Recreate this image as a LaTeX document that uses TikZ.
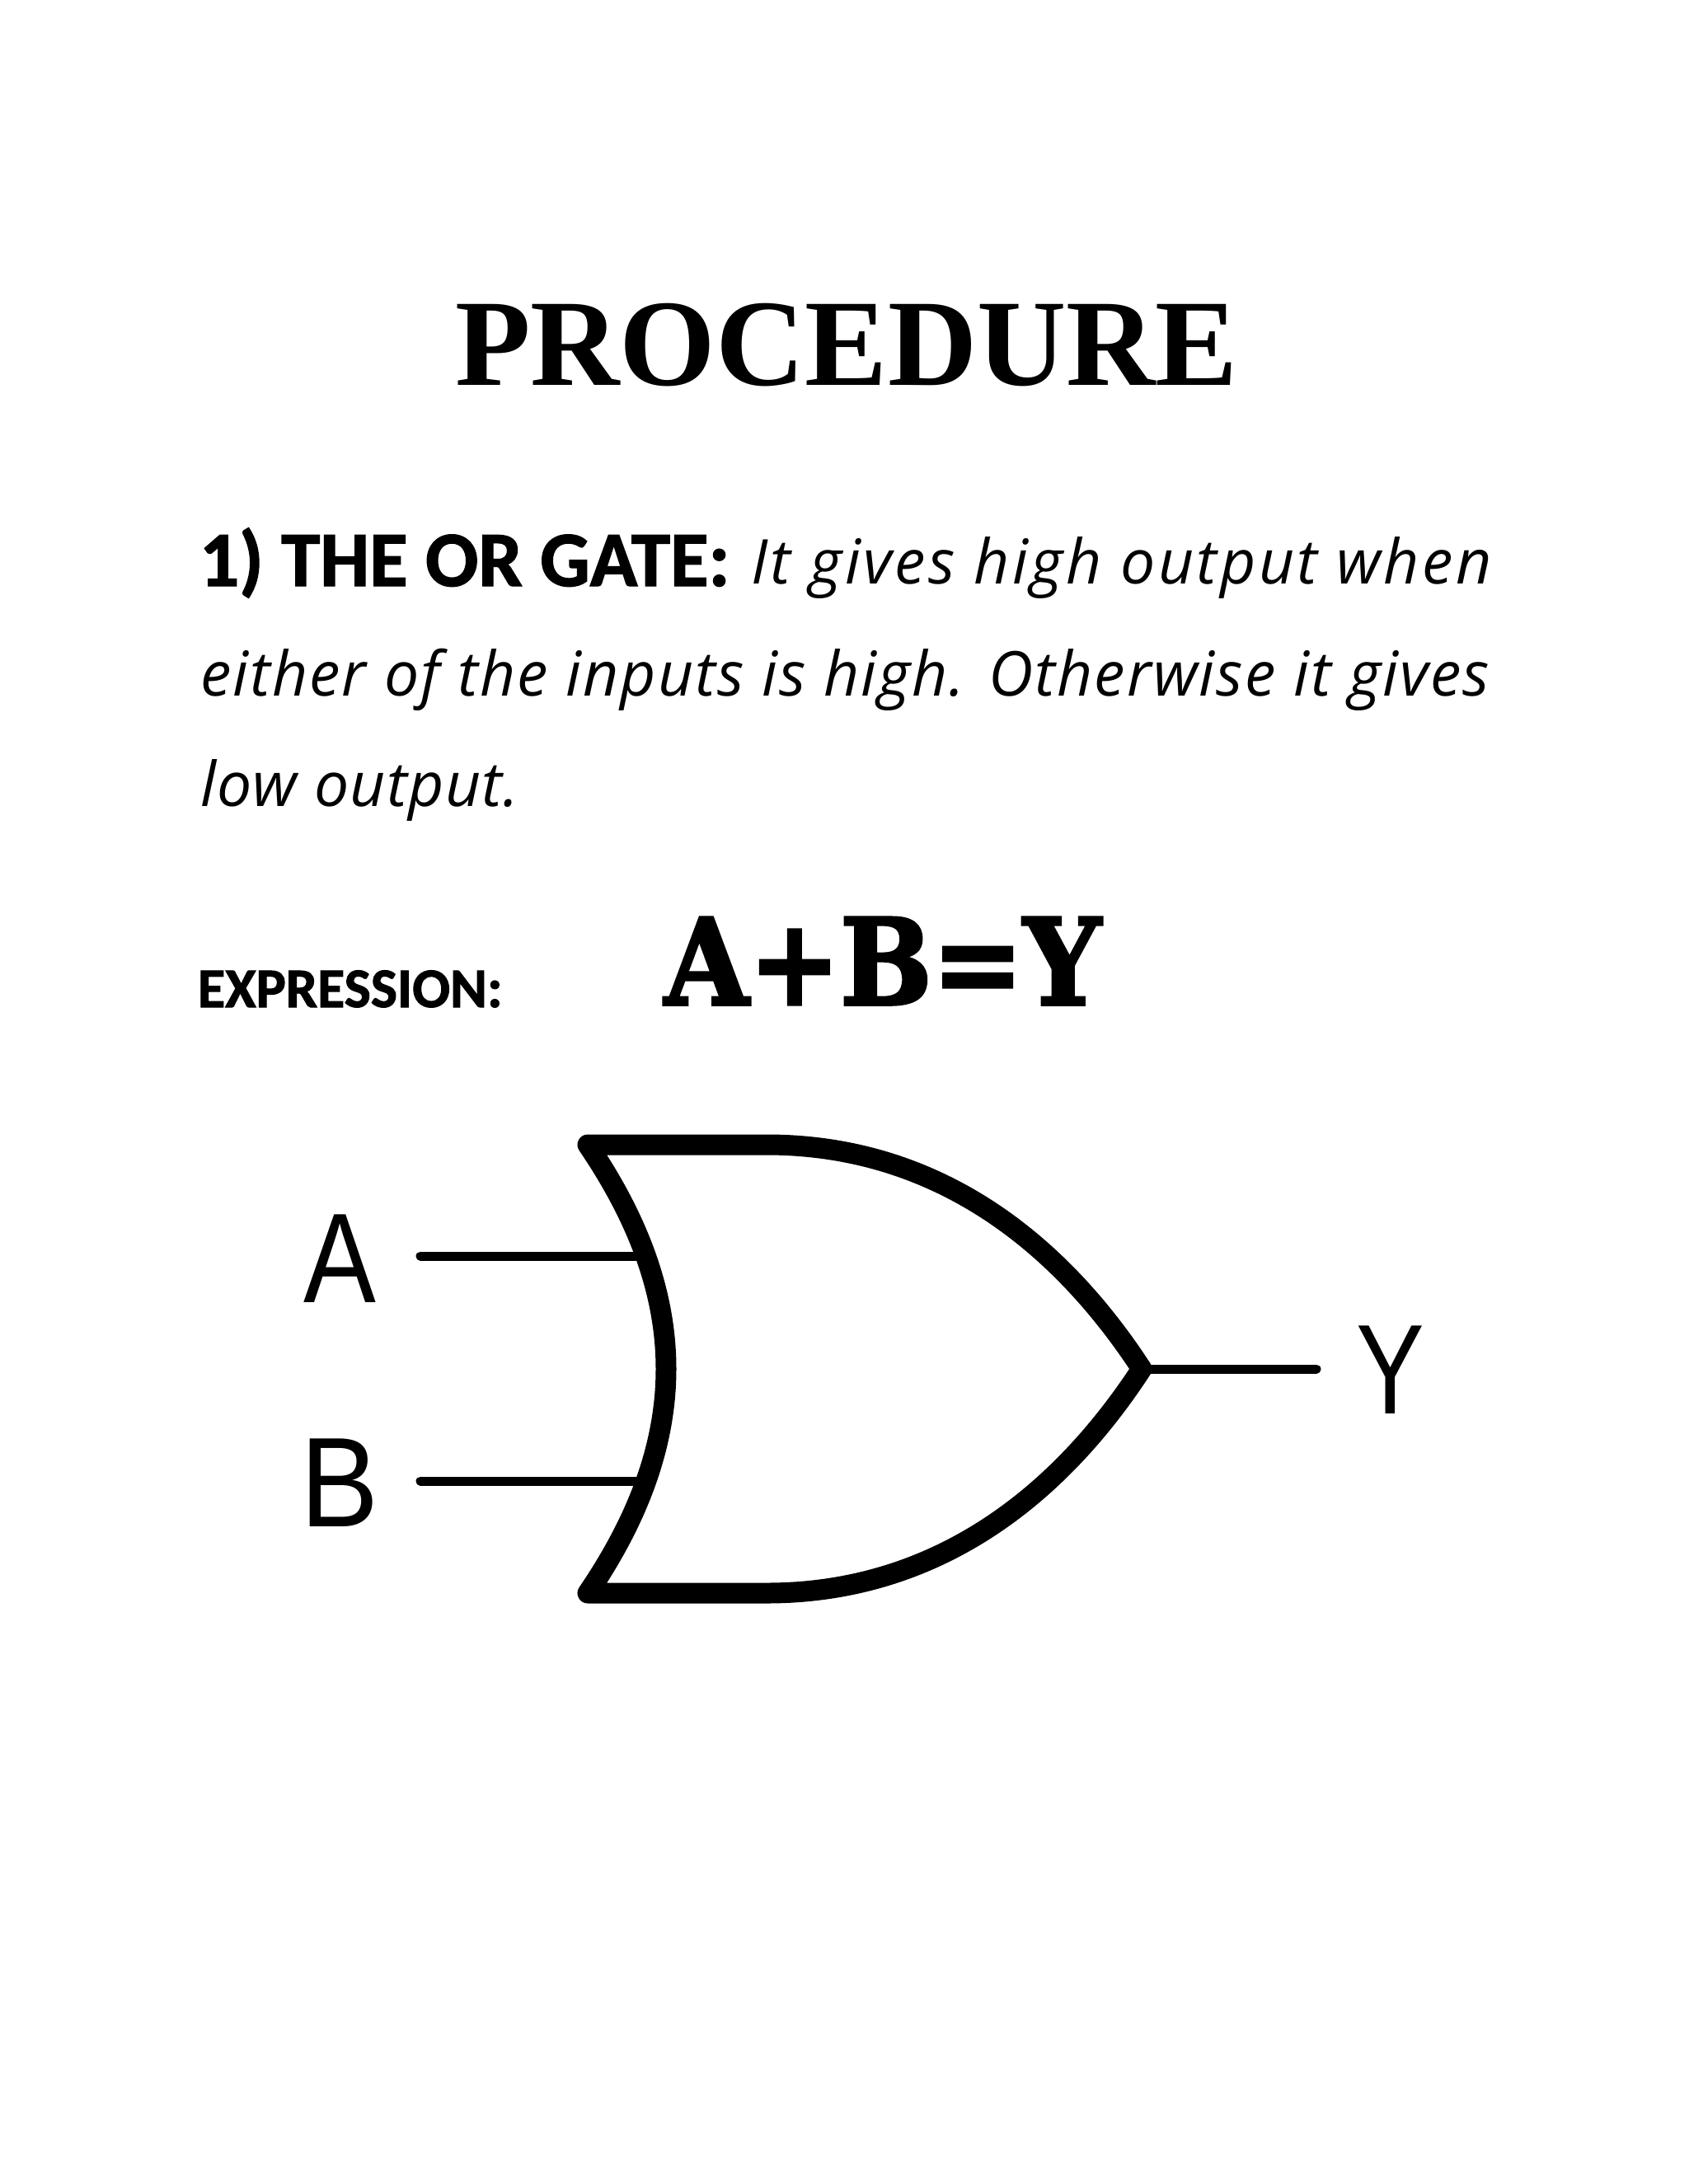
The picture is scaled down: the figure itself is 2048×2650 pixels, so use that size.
\documentclass[tikz,border=0pt]{standalone}
\usepackage{fontspec}
\setmainfont{Carlito}[BoldFeatures={FakeBold=1.5}]
\newfontfamily\titlefont{Liberation Serif}
\newfontfamily\slabfont{DejaVu Serif}[BoldFeatures={FakeBold=2.5}]
\newfontfamily\labelfont{Liberation Sans}
\newfontfamily\handfont{Open Sans}
\tikzset{
  txt/.style={anchor=base west,inner sep=0pt,outer sep=0pt,text=black},
  pin/.style={line width=11pt,line cap=round,black},
  gateline/.style={line width=25pt,line join=round,line cap=round,black},
  letter/.style={anchor=base,inner sep=0pt,outer sep=0pt,font=\labelfont\fontsize{155}{155}\selectfont}
}
\newcommand{\hand}[1]{\handfont\itshape\fontsize{75}{75}\selectfont\addfontfeature{LetterSpace=#1}}
\begin{document}
\begin{tikzpicture}[x=1pt,y=-1pt]
\useasboundingbox (0,0) rectangle (2048,2650);
\fill[white] (0,0) rectangle (2048,2650);
\node[txt] (title) at (552,467) {\titlefont\bfseries\fontsize{150}{150}\selectfont PROCEDURE};
\node[txt] (head) at (242,711) {\bfseries\fontsize{95}{95}\selectfont 1) THE OR GATE:};
\node[txt] (l1) at (911,708) {\hand{4.7} It gives high output when};
\node[txt] (l2) at (243,844) {\hand{2.8} either of the inputs is high. Otherwise it gives};
\node[txt] (l3) at (243,978) {\hand{1.8} low output.};
\node[txt] (expr) at (240,1222) {\bfseries\fontsize{68}{68}\selectfont EXPRESSION:};
\node[txt] (eq) at (806,1219) {\scalebox{.911}[1]{\slabfont\bfseries\fontsize{145}{145}\selectfont A+B=Y}};
% gate
\coordinate (tl) at (713,1389);
\coordinate (tr) at (930,1389);
\coordinate (tip) at (1385,1661);
\coordinate (bl) at (713,1933);
\coordinate (br) at (930,1933);
\coordinate (back) at (808,1661);
\draw[gateline] (tr) .. controls (1130,1389) and (1280,1500) .. (tip)
  .. controls (1280,1822) and (1130,1933) .. (br) -- (bl)
  .. controls (775,1842) and (808,1752) .. (back)
  .. controls (808,1570) and (775,1480) .. (tl) -- cycle;
\coordinate (ina) at (786,1524);
\coordinate (inb) at (786,1797);
\coordinate (ao) at (510,1524);
\coordinate (bo) at (510,1797);
\coordinate (yo) at (1597,1661);
\draw[pin] (ao) -- (ina);
\draw[pin] (bo) -- (inb);
\draw[pin] (tip) -- (yo);
\node[letter] (la) at (412,1580) {\scalebox{.85}[1]{A}};
\node[letter] (lb) at (412,1852) {\scalebox{.92}[1]{B}};
\node[letter] (ly) at (1687,1715) {\scalebox{.8}[1]{Y}};
\end{tikzpicture}
\end{document}
